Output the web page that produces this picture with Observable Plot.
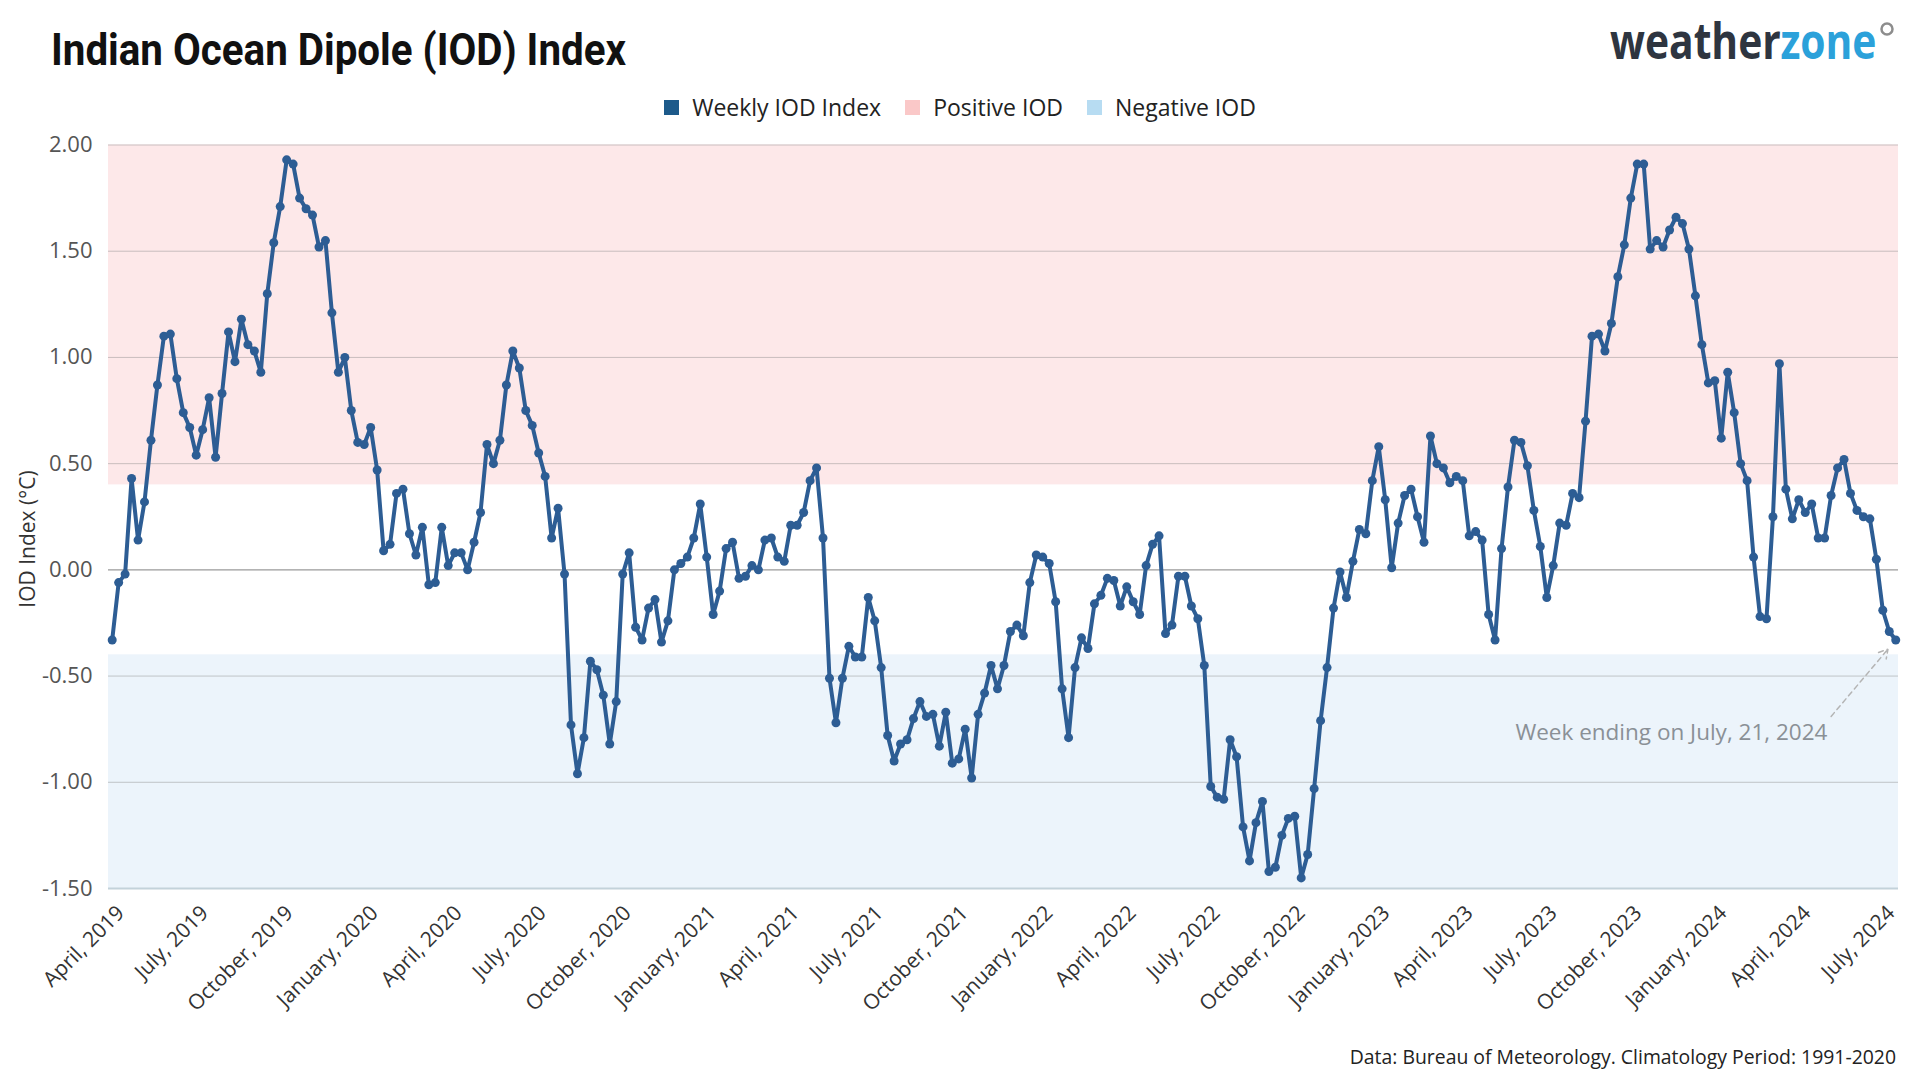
<!DOCTYPE html>
<html>
<head>
<meta charset="utf-8">
<script src="https://cdn.jsdelivr.net/npm/d3@7"></script>
<script src="https://cdn.jsdelivr.net/npm/@observablehq/plot@0.6"></script>
<style>
  html, body { margin:0; padding:0; background:#fff; }
  #page { position:relative; width:1920px; height:1080px; overflow:hidden; font-family:"Open Sans", sans-serif; }
  #chart { position:absolute; left:0; top:0; }
  #head { position:absolute; left:0; top:0; }
  #legend { position:absolute; left:0; width:1920px; top:96px; display:flex; justify-content:center; align-items:center; font-size:23px; line-height:23px; color:#222; }
  .item { display:flex; align-items:center; margin:0 12px; }
  .sw { width:15px; height:15px; margin-right:13px; }
  #ylabel { position:absolute; left:27px; top:539px; transform:translate(-50%,-50%) rotate(-90deg); font-size:21px; line-height:21px; color:#333; white-space:nowrap; }
  #caption { position:absolute; right:24px; top:1046px; font-size:19.4px; line-height:21px; color:#222; white-space:nowrap; }
</style>
</head>
<body>
<div id="page">
  <div id="chart"></div>
  <svg id="head" width="1920" height="90">
    <text x="51" y="65" font-family="Roboto, sans-serif" font-weight="700" font-size="45" fill="#111" textLength="575" lengthAdjust="spacingAndGlyphs">Indian Ocean Dipole (IOD) Index</text>
    <g transform="translate(1610,59) scale(0.8,1)">
      <text x="0" y="0" font-family="'Open Sans', sans-serif" font-weight="700" font-size="51" fill="#2e3540">weather</text>
      <text x="213" y="0" font-family="'Open Sans', sans-serif" font-weight="700" font-size="51" fill="#2ba1da">zone</text>
    </g>
    <circle cx="1887" cy="29" r="5.5" fill="none" stroke="#8d8d8d" stroke-width="2.5"></circle>
  </svg>
  <div id="legend"></div>
  <div id="ylabel">IOD Index (°C)</div>
  <div id="caption">Data: Bureau of Meteorology. Climatology Period: 1991-2020</div>
</div>
<script>
// ---- data ----
const firstWeekEnding = "2019-04-07";
const iod = [
  -0.33,-0.06,-0.02,0.43,0.14,0.32,0.61,0.87,1.10,1.11,0.90,0.74,0.67,0.54,0.66,0.81,0.53,0.83,1.12,0.98,1.18,1.06,1.03,0.93,1.30,1.54,1.71,1.93,1.91,1.75,1.70,1.67,1.52,1.55,1.21,0.93,
  1.00,0.75,0.60,0.59,0.67,0.47,0.09,0.12,0.36,0.38,0.17,0.07,0.20,-0.07,-0.06,0.20,0.02,0.08,0.08,0.00,0.13,0.27,0.59,0.50,0.61,0.87,1.03,0.95,0.75,0.68,0.55,0.44,0.15,0.29,-0.02,-0.73,
  -0.96,-0.79,-0.43,-0.47,-0.59,-0.82,-0.62,-0.02,0.08,-0.27,-0.33,-0.18,-0.14,-0.34,-0.24,0.00,0.03,0.06,0.15,0.31,0.06,-0.21,-0.10,0.10,0.13,-0.04,-0.03,0.02,0.00,0.14,0.15,0.06,0.04,0.21,0.21,
  0.27,0.42,0.48,0.15,-0.51,-0.72,-0.51,-0.36,-0.41,-0.41,-0.13,-0.24,-0.46,-0.78,-0.90,-0.82,-0.80,-0.70,-0.62,-0.69,-0.68,-0.83,-0.67,-0.91,-0.89,-0.75,-0.98,-0.68,-0.58,-0.45,-0.56,-0.45,-0.29,-0.26,-0.31,-0.06,
  0.07,0.06,0.03,-0.15,-0.56,-0.79,-0.46,-0.32,-0.37,-0.16,-0.12,-0.04,-0.05,-0.17,-0.08,-0.15,-0.21,0.02,0.12,0.16,-0.30,-0.26,-0.03,-0.03,-0.17,-0.23,-0.45,-1.02,-1.07,-1.08,-0.80,-0.88,-1.21,-1.37,-1.19,-1.09,
  -1.42,-1.40,-1.25,-1.17,-1.16,-1.45,-1.34,-1.03,-0.71,-0.46,-0.18,-0.01,-0.13,0.04,0.19,0.17,0.42,0.58,0.33,0.01,0.22,0.35,0.38,0.25,0.13,0.63,0.50,0.48,0.41,0.44,0.42,0.16,0.18,0.14,-0.21,
  -0.33,0.10,0.39,0.61,0.60,0.49,0.28,0.11,-0.13,0.02,0.22,0.21,0.36,0.34,0.70,1.10,1.11,1.03,1.16,1.38,1.53,1.75,1.91,1.91,1.51,1.55,1.52,1.60,1.66,1.63,1.51,1.29,1.06,0.88,0.89,0.62,
  0.93,0.74,0.50,0.42,0.06,-0.22,-0.23,0.25,0.97,0.38,0.24,0.33,0.27,0.31,0.15,0.15,0.35,0.48,0.52,0.36,0.28,0.25,0.24,0.05,-0.19,-0.29,-0.33
];
const bandNames = ["Positive IOD", "Negative IOD"];
const bandLow = [0.4, -1.5];
const bandHigh = [2.0, -0.4];
const yTicks = [-1.5, -1.0, -0.5, 0, 0.5, 1.0, 1.5, 2.0];
const xTickMonths = ["2019-04-01","2019-07-01","2019-10-01","2020-01-01","2020-04-01","2020-07-01","2020-10-01",
  "2021-01-01","2021-04-01","2021-07-01","2021-10-01","2022-01-01","2022-04-01","2022-07-01","2022-10-01",
  "2023-01-01","2023-04-01","2023-07-01","2023-10-01","2024-01-01","2024-04-01","2024-07-01"];
const legendLabels = ["Weekly IOD Index", "Positive IOD", "Negative IOD"];
const annotationText = "Week ending on July, 21, 2024";

// ---- styles ----
const lineColor = "#2d5d94";
const legendColors = ["#1d5a8a", "#fac8c8", "#b7dcf2"];
const bandColors = {"Positive IOD": "#fde8e9", "Negative IOD": "#ecf4fb"};

// ---- build ----
const start = new Date(firstWeekEnding);
const weeks = iod.map((v, i) => ({date: d3.utcDay.offset(start, i * 7), value: v}));
const last = weeks[weeks.length - 1];
const bands = bandNames.map((n, i) => ({name: n, lo: bandLow[i], hi: bandHigh[i]}));
const tickDates = xTickMonths.map(s => new Date(s));

const chart = Plot.plot({
  width: 1920, height: 1080,
  marginTop: 144.5, marginBottom: 192, marginLeft: 108, marginRight: 22,
  style: {fontFamily: '"Open Sans", sans-serif', fontSize: "21px", background: "transparent", overflow: "visible"},
  x: {type: "utc", domain: [d3.utcDay.offset(weeks[0].date, -4), d3.utcDay.offset(last.date, 3)]},
  y: {domain: [-1.5, 2.0]},
  marks: [
    Plot.rect(bands, {y1: "lo", y2: "hi", fill: d => bandColors[d.name]}),
    Plot.ruleY(yTicks.filter(t => t !== 0 && t !== -1.5), {stroke: "#8a8a8a", strokeOpacity: 0.45, strokeWidth: 1}),
    Plot.ruleY([0], {stroke: "#9a9a9a", strokeWidth: 1.2}),
    Plot.ruleY([-1.5], {stroke: "#c3d2da", strokeWidth: 2}),
    Plot.axisY(yTicks, {tickSize: 0, tickPadding: 16, tickFormat: d => d.toFixed(2), fontSize: 22, fill: "#555", label: null}),
    Plot.axisX(tickDates, {tickSize: 0, tickPadding: 8, tickRotate: -45, dx: 14, dy: 13, tickFormat: d3.utcFormat("%B, %Y"), fontSize: 21, fill: "#333", label: null}),
    Plot.line(weeks, {x: "date", y: "value", stroke: lineColor, strokeWidth: 4, strokeLinejoin: "round"}),
    Plot.dot(weeks, {x: "date", y: "value", r: 4.5, fill: lineColor, stroke: "none"}),
    Plot.arrow([last], {x1: d => d3.utcDay.offset(d.date, -70), y1: -0.69, x2: "date", y2: "value", insetEnd: 12,
      stroke: "#b4b4b4", strokeWidth: 1.5, strokeDasharray: "5,4", headLength: 10}),
    Plot.text([last], {x: d => d3.utcDay.offset(d.date, -74), y: -0.766, text: () => annotationText,
      textAnchor: "end", fontSize: 22.5, fill: "#8a9096"})
  ]
});
document.getElementById("chart").appendChild(chart);

const legend = document.getElementById("legend");
legendLabels.forEach((l, i) => {
  const item = document.createElement("div");
  item.className = "item";
  const sw = document.createElement("span");
  sw.className = "sw";
  sw.style.background = legendColors[i];
  const tx = document.createElement("span");
  tx.textContent = l;
  item.appendChild(sw); item.appendChild(tx);
  legend.appendChild(item);
});
</script>
</body>
</html>
